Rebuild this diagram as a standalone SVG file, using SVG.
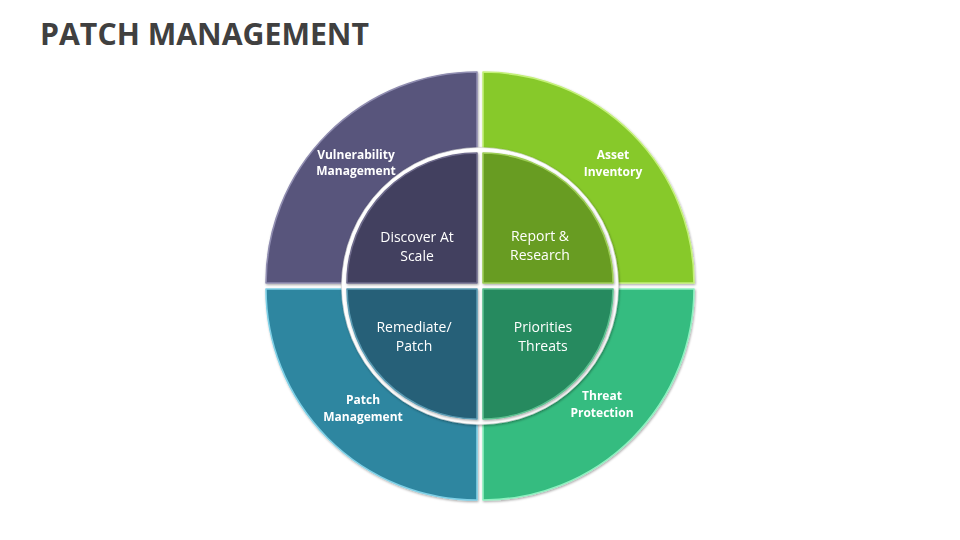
<svg xmlns="http://www.w3.org/2000/svg" width="960" height="540" viewBox="0 0 960 540">
<defs>
<style>
.title{font-family:"Open Sans","Liberation Sans",sans-serif;font-weight:700;font-size:30px;fill:#404040}
.outer-label{font-family:"Open Sans","Liberation Sans",sans-serif;font-weight:700;font-size:12px;fill:#ffffff;text-anchor:middle}
.inner-label{font-family:"Open Sans","Liberation Sans",sans-serif;font-size:14px;fill:#ffffff;text-anchor:middle}
.seg{stroke-width:1.6;stroke-linejoin:round}
</style>
<filter id="sh" x="-10%" y="-10%" width="120%" height="120%">
<feDropShadow dx="0.8" dy="1.2" stdDeviation="1.2" flood-color="#000000" flood-opacity="0.35"/>
</filter>
</defs>
<rect width="960" height="540" fill="#ffffff"/>
<text class="title" x="40" y="45" textLength="329" lengthAdjust="spacingAndGlyphs">PATCH MANAGEMENT</text>

<g id="vulnerability-management" filter="url(#sh)">
<path class="seg" d="M477 283 L266 283 A211 211 0 0 1 477 72 Z" fill="#58557c" stroke="#8f8cb0"/>
<text class="outer-label" x="356" y="159">Vulnerability</text>
<text class="outer-label" x="356" y="175">Management</text>
</g>
<g id="asset-inventory" filter="url(#sh)">
<path class="seg" d="M483 283 L483 72 A211 211 0 0 1 694 283 Z" fill="#87c92a" stroke="#c4f07a"/>
<text class="outer-label" x="613" y="159">Asset</text>
<text class="outer-label" x="613" y="176">Inventory</text>
</g>
<g id="threat-protection" filter="url(#sh)">
<path class="seg" d="M483 289 L694 289 A211 211 0 0 1 483 500 Z" fill="#34bc80" stroke="#8ff0c0"/>
<text class="outer-label" x="602" y="400">Threat</text>
<text class="outer-label" x="602" y="417">Protection</text>
</g>
<g id="patch-management" filter="url(#sh)">
<path class="seg" d="M477 289 L477 500 A211 211 0 0 1 266 289 Z" fill="#2f86a0" stroke="#7fd0e6"/>
<text class="outer-label" x="363" y="404">Patch</text>
<text class="outer-label" x="363" y="421">Management</text>
</g>

<g id="ring">
<circle cx="480" cy="286" r="138.5" fill="#ffffff" stroke="#d0d0d0" stroke-width="0.6" filter="url(#sh)"/>
<rect x="477" y="150" width="6" height="272" fill="#ffffff"/>
<rect x="344" y="283" width="272" height="6" fill="#ffffff"/>
</g>

<g id="discover-at-scale" filter="url(#sh)">
<path class="seg" d="M477 283 L347 283 A130 130 0 0 1 477 153 Z" fill="#42405e" stroke="#6e6b8c"/>
<text class="inner-label" x="417" y="242">Discover At</text>
<text class="inner-label" x="417" y="261">Scale</text>
</g>
<g id="report-research" filter="url(#sh)">
<path class="seg" d="M483 283 L483 153 A130 130 0 0 1 613 283 Z" fill="#689c20" stroke="#9ccc55"/>
<text class="inner-label" x="540" y="241">Report &amp;</text>
<text class="inner-label" x="540" y="260">Research</text>
</g>
<g id="priorities-threats" filter="url(#sh)">
<path class="seg" d="M483 289 L613 289 A130 130 0 0 1 483 419 Z" fill="#268a5e" stroke="#5cc090"/>
<text class="inner-label" x="543" y="332">Priorities</text>
<text class="inner-label" x="543" y="351">Threats</text>
</g>
<g id="remediate-patch" filter="url(#sh)">
<path class="seg" d="M477 289 L477 419 A130 130 0 0 1 347 289 Z" fill="#256078" stroke="#5a9ab2"/>
<text class="inner-label" x="414" y="332">Remediate/</text>
<text class="inner-label" x="414" y="351">Patch</text>
</g>
<g id="connectors"/>
</svg>
